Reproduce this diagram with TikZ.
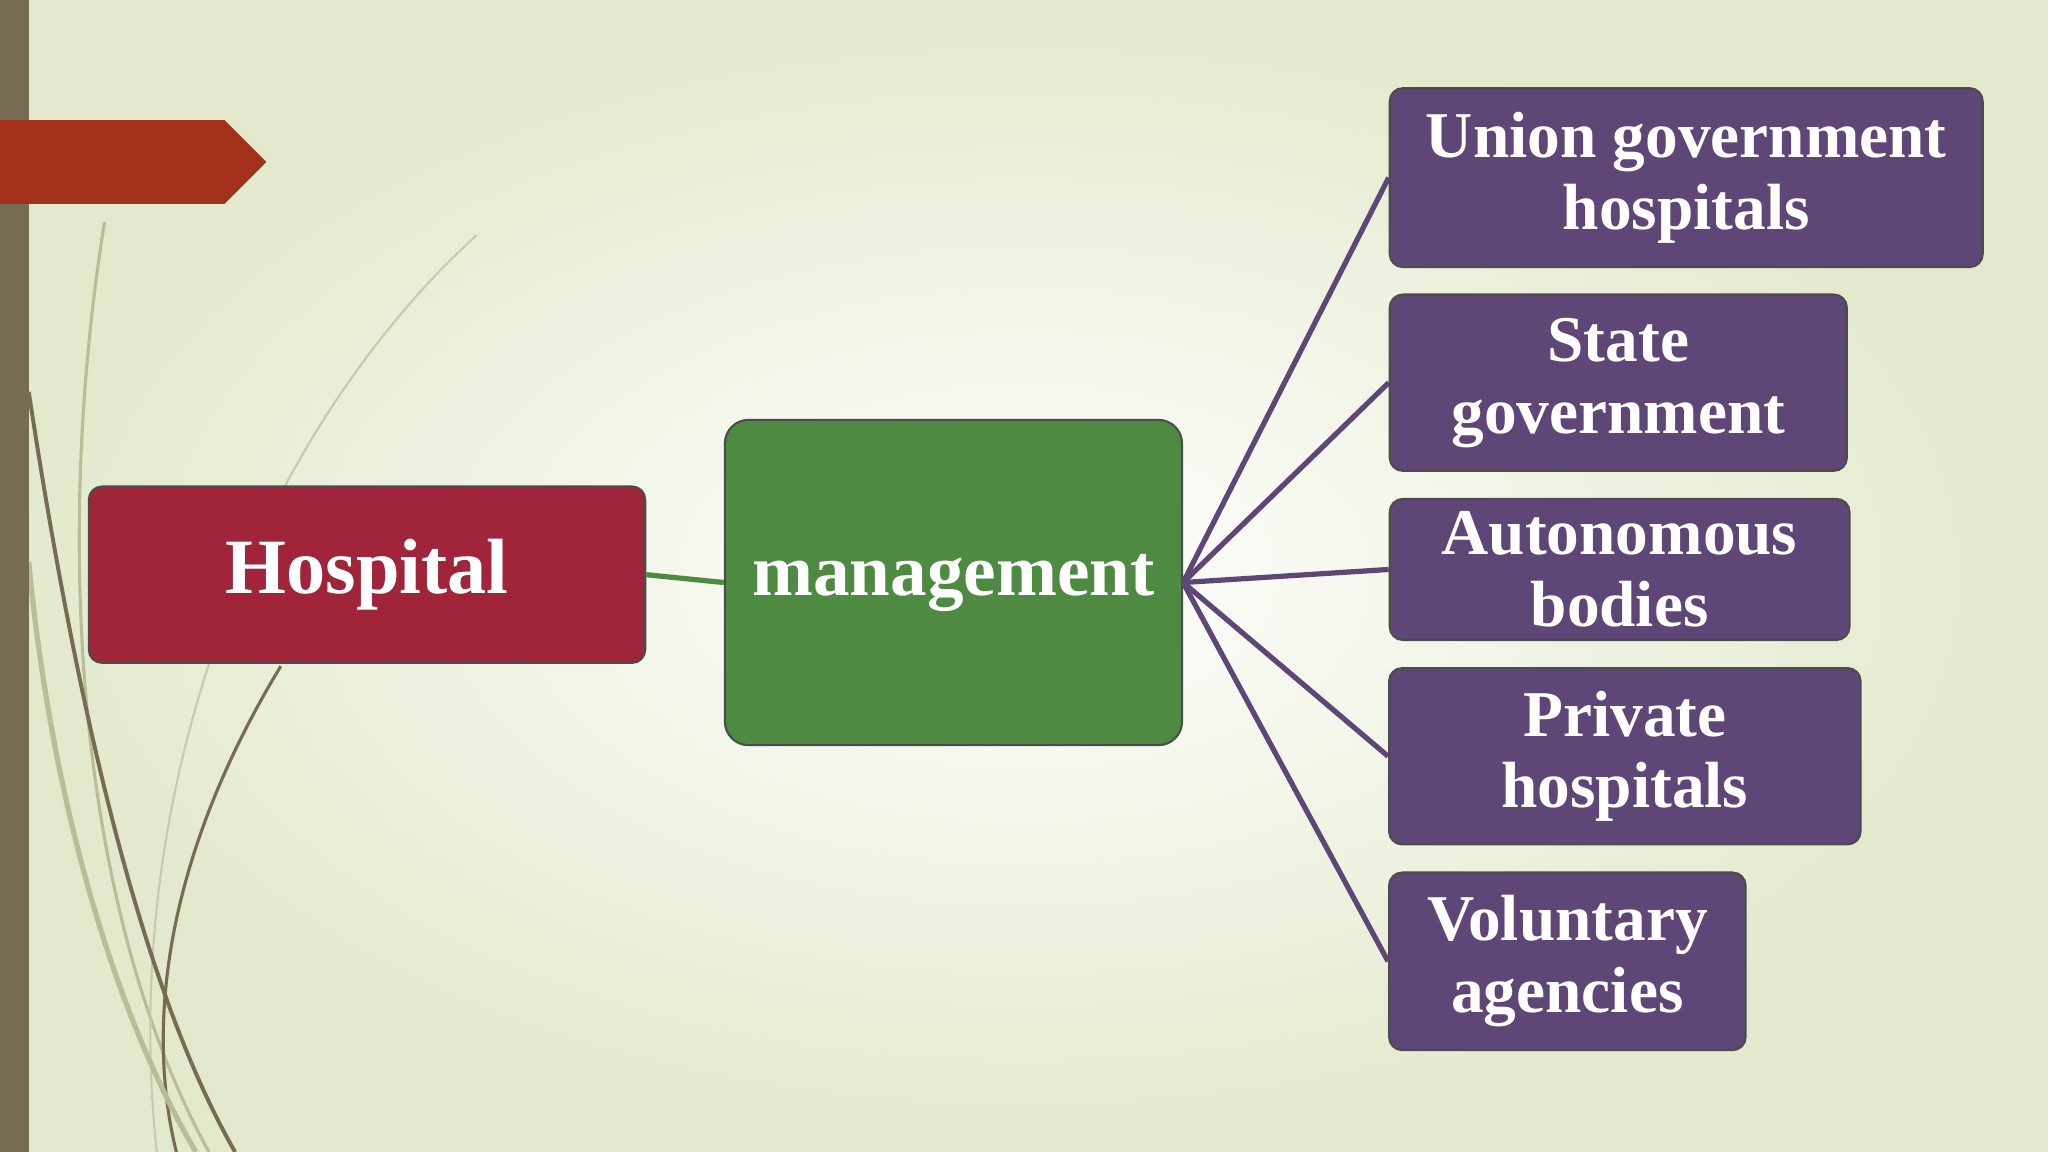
\documentclass[tikz,border=0pt]{standalone}
\usepackage{fontspec}
\setmainfont{Liberation Serif}
\usetikzlibrary{shadings}
\definecolor{bgout}{HTML}{E3E9CC}
\definecolor{barc}{HTML}{776B52}
\definecolor{arrc}{HTML}{A3301A}
\definecolor{hosp}{HTML}{A0243A}
\definecolor{mgmt}{HTML}{4E8A42}
\definecolor{purp}{HTML}{5E4677}
\definecolor{curvec}{HTML}{B9BE98}
\begin{document}
\begin{tikzpicture}[x=0.5pt,y=-0.5pt,
  box/.style={draw=black!70,line width=0.8pt,rounded corners=5pt,text=white,font=\bfseries,align=center,inner sep=0pt},
  conn/.style={line width=2pt,draw=purp}]
\useasboundingbox (0,0) rectangle (1568,882);
\shade[inner color=white,outer color=bgout] (0,0) rectangle (1568,882);
% decorative curves
\draw[curvec,line width=1.2pt] (80,170) .. controls (40,420) and (60,700) .. (160,882);
\draw[curvec!80,line width=0.8pt] (365,180) .. controls (200,330) and (90,600) .. (120,882);
\draw[barc,line width=1.2pt] (215,510) .. controls (130,650) and (110,780) .. (135,882);
\draw[barc,line width=1.5pt] (22,300) .. controls (60,550) and (110,760) .. (180,882);
\draw[curvec,line width=2pt] (22,430) .. controls (40,620) and (90,780) .. (150,882);
\fill[barc] (0,0) rectangle (22,882);
\fill[arrc] (0,92) -- (172,92) -- (204,124) -- (172,156) -- (0,156) -- cycle;
% nodes
\node[box,fill=hosp,minimum width=213pt,minimum height=67.5pt,font=\bfseries\fontsize{30}{32}\selectfont] (h) at (281,440) {Hospital};
\node[box,fill=mgmt,minimum width=175pt,minimum height=124.5pt,rounded corners=9pt,font=\bfseries\fontsize{28}{30}\selectfont] (m) at (730,446) {management};
\tikzset{pb/.style={box,fill=purp,font=\bfseries\fontsize{25}{27.5}\selectfont}}
\node[pb,minimum width=227pt,minimum height=68.5pt] (p1) at (1291,136) {Union government\\hospitals};
\node[pb,minimum width=175pt,minimum height=67.5pt] (p2) at (1239,293) {State\\government};
\node[pb,minimum width=176pt,minimum height=54pt] (p3) at (1240,436) {Autonomous\\bodies};
\node[pb,minimum width=180.5pt,minimum height=67.5pt] (p4) at (1244,579) {Private\\hospitals};
\node[pb,minimum width=136.5pt,minimum height=68pt] (p5) at (1200,736) {Voluntary\\agencies};
% connectors
\draw[line width=2pt,mgmt] (h.east) -- (m.west);
\foreach \p in {p1,p2,p3,p4,p5} \draw[conn] (m.east) -- (\p.west);
\end{tikzpicture}
\end{document}
